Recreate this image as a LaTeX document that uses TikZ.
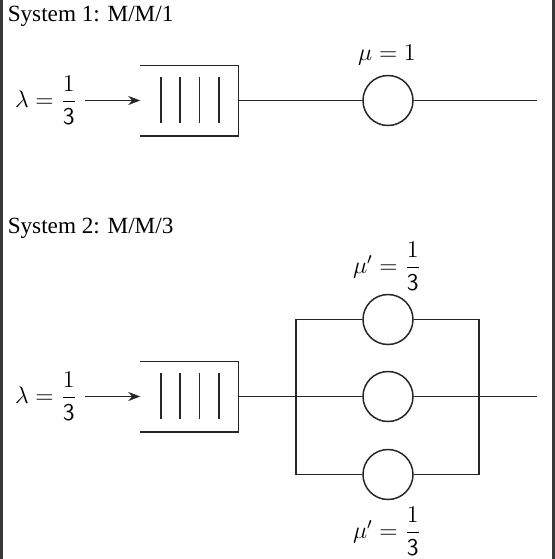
\documentclass[tikz,border=0pt]{standalone}
\usepackage{amsmath}
\usepackage[no-math]{fontspec}
\setmainfont{Liberation Serif}
\usetikzlibrary{arrows.meta}
\begin{document}
\begin{tikzpicture}[x=0.5pt,y=-0.5pt,
  line width=0.75pt, draw=black!85,
  every node/.style={font=\fontsize{11.6}{13.9}\selectfont},
  lab/.style={inner sep=0pt},
  mlab/.style={inner sep=0pt, font=\fontsize{12}{14.4}\selectfont},
  qbox/.style={inner sep=0pt, minimum width=48.5pt, minimum height=34.5pt},
  srv/.style={circle, draw, inner sep=0pt, minimum size=25pt},
  arr/.style={-{Stealth[length=6pt,width=4.5pt]}},
  edgebar/.style={fill=black!78, draw=none}]
\useasboundingbox (0,0) rectangle (555,559);
\fill[edgebar] (0,0) rectangle (3.5,559);
\fill[edgebar] (552.5,0) rectangle (555,559);

% ---------- System 1 ----------
\node[lab, anchor=base west] (t1) at (7,21) {System 1: M/M/1};
\node[mlab] (l1) at (46,100) {$\lambda = \dfrac{1}{\mathsf{3}}$};
\node[qbox] (q1) at (189.5,100.5) {};
\draw (q1.north west) -- (q1.north east) -- (q1.south east) -- (q1.south west);
\foreach \x in {161,180,199.5,219}{
  \draw (\x,77) -- (\x,123);
}
\coordinate (a1) at (85,100.5);
\draw[arr] (a1) -- (q1.west);
\node[srv] (s1) at (388,100.5) {};
\node[mlab] (m1) at (387,55) {$\mu = 1$};
\coordinate (e1) at (537,100.5);
\draw (q1.east) -- (s1.west);
\draw (s1.east) -- (e1);

% ---------- System 2 ----------
\node[lab, anchor=base west] (t2) at (7,233) {System 2: M/M/3};
\node[mlab] (l2) at (46,396) {$\lambda = \dfrac{1}{\mathsf{3}}$};
\node[qbox] (q2) at (189.5,396.5) {};
\draw (q2.north west) -- (q2.north east) -- (q2.south east) -- (q2.south west);
\foreach \x in {161,180,199.5,219}{
  \draw (\x,373) -- (\x,419);
}
\coordinate (a2) at (85,396.5);
\draw[arr] (a2) -- (q2.west);

\node[srv] (sa) at (388,319.5) {};
\node[srv] (sb) at (388,396.5) {};
\node[srv] (sc) at (388,474.5) {};
\coordinate (rl) at (296,396.5);
\coordinate (rr) at (479,396.5);
\coordinate (e2) at (537,396.5);
\draw (q2.east) -- (sb.west);
\draw (sb.east) -- (e2);
\draw (sa.west) -| (rl) |- (sc.west);
\draw (sa.east) -| (rr) |- (sc.east);

\node[mlab] (m2) at (387,266) {$\mu' = \dfrac{1}{\mathsf{3}}$};
\node[mlab] (m3) at (387,531) {$\mu' = \dfrac{1}{\mathsf{3}}$};
\end{tikzpicture}
\end{document}
